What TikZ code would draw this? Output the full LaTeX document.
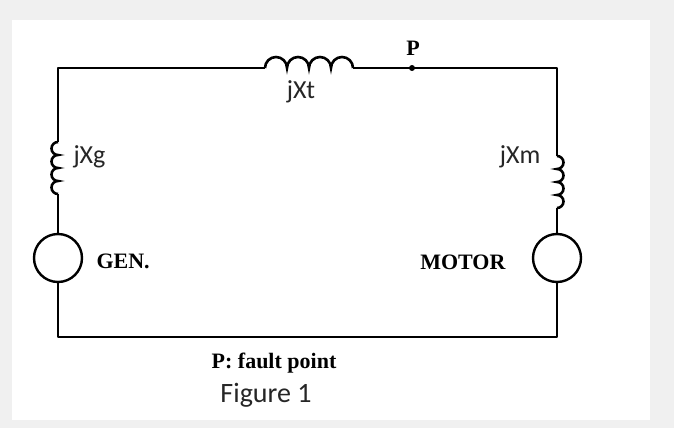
\documentclass[tikz,border=0pt]{standalone}
\usepackage{fontspec}
\setmainfont{Liberation Serif}
\newfontfamily\calfnt{Carlito}
\begin{document}
\begin{tikzpicture}[x=1pt,y=-1pt,
  wire/.style={line width=2.6pt},
  mach/.style={circle,draw,line width=2.4pt,minimum size=48pt,inner sep=0pt},
  lbl/.style={font=\calfnt\fontsize{26}{26}\selectfont,text=black!85},
  tlbl/.style={font=\bfseries\fontsize{22}{22}\selectfont}]
\fill[gray!12] (0,0) rectangle (674,428);
\fill[white] (12,20) rectangle (650,420);
\useasboundingbox (0,0) rectangle (674,428);
\node[mach] (gen) at (58,258) {};
\node[mach] (mot) at (557,258) {};
\coordinate (tl) at (58,68);
\coordinate (tr) at (557,68);
\coordinate (bl) at (58,337);
\coordinate (br) at (557,337);
\coordinate (g1) at (58,142);
\coordinate (g2) at (58,194);
\coordinate (m1) at (557,156);
\coordinate (m2) at (557,208);
\coordinate (t1) at (265,68);
\coordinate (t2) at (353,68);
\coordinate (p) at (412,68);
% wires
\draw[wire] (gen.north) -- (g2);
\draw[wire,line join=round] (g1) -- (tl) -- (t1);
\draw[wire,line join=round] (t2) -- (p) -- (tr) -- (m1);
\draw[wire] (m2) -- (mot.north);
\draw[wire,line join=round] (gen.south) -- (bl) -- (br) -- (mot.south);
% coils
\draw[wire] (t1) foreach \i in {1,...,4} { arc(180:360:11) };
\draw[wire] (g1) foreach \i in {1,...,4} { arc(270:90:6.5) };
\draw[wire] (m1) foreach \i in {1,...,4} { arc(-90:90:6.5) };
\fill (p) circle (3pt);
% labels
\node[tlbl] (pl) at (413,48) {P};
\node[lbl] (lt) at (301,92) {jXt};
\node[lbl,anchor=west] (lg) at (70,157) {jXg};
\node[lbl,anchor=east] (lm) at (544,157) {jXm};
\node[tlbl,anchor=west] (lgen) at (93,261) {GEN.};
\node[tlbl,anchor=east] (lmot) at (509,262) {MOTOR};
\node[tlbl] (fp) at (274,363) {P: fault point};
\node[lbl,font=\calfnt\fontsize{28}{28}\selectfont] (fig) at (266,395) {Figure 1};
\end{tikzpicture}
\end{document}
